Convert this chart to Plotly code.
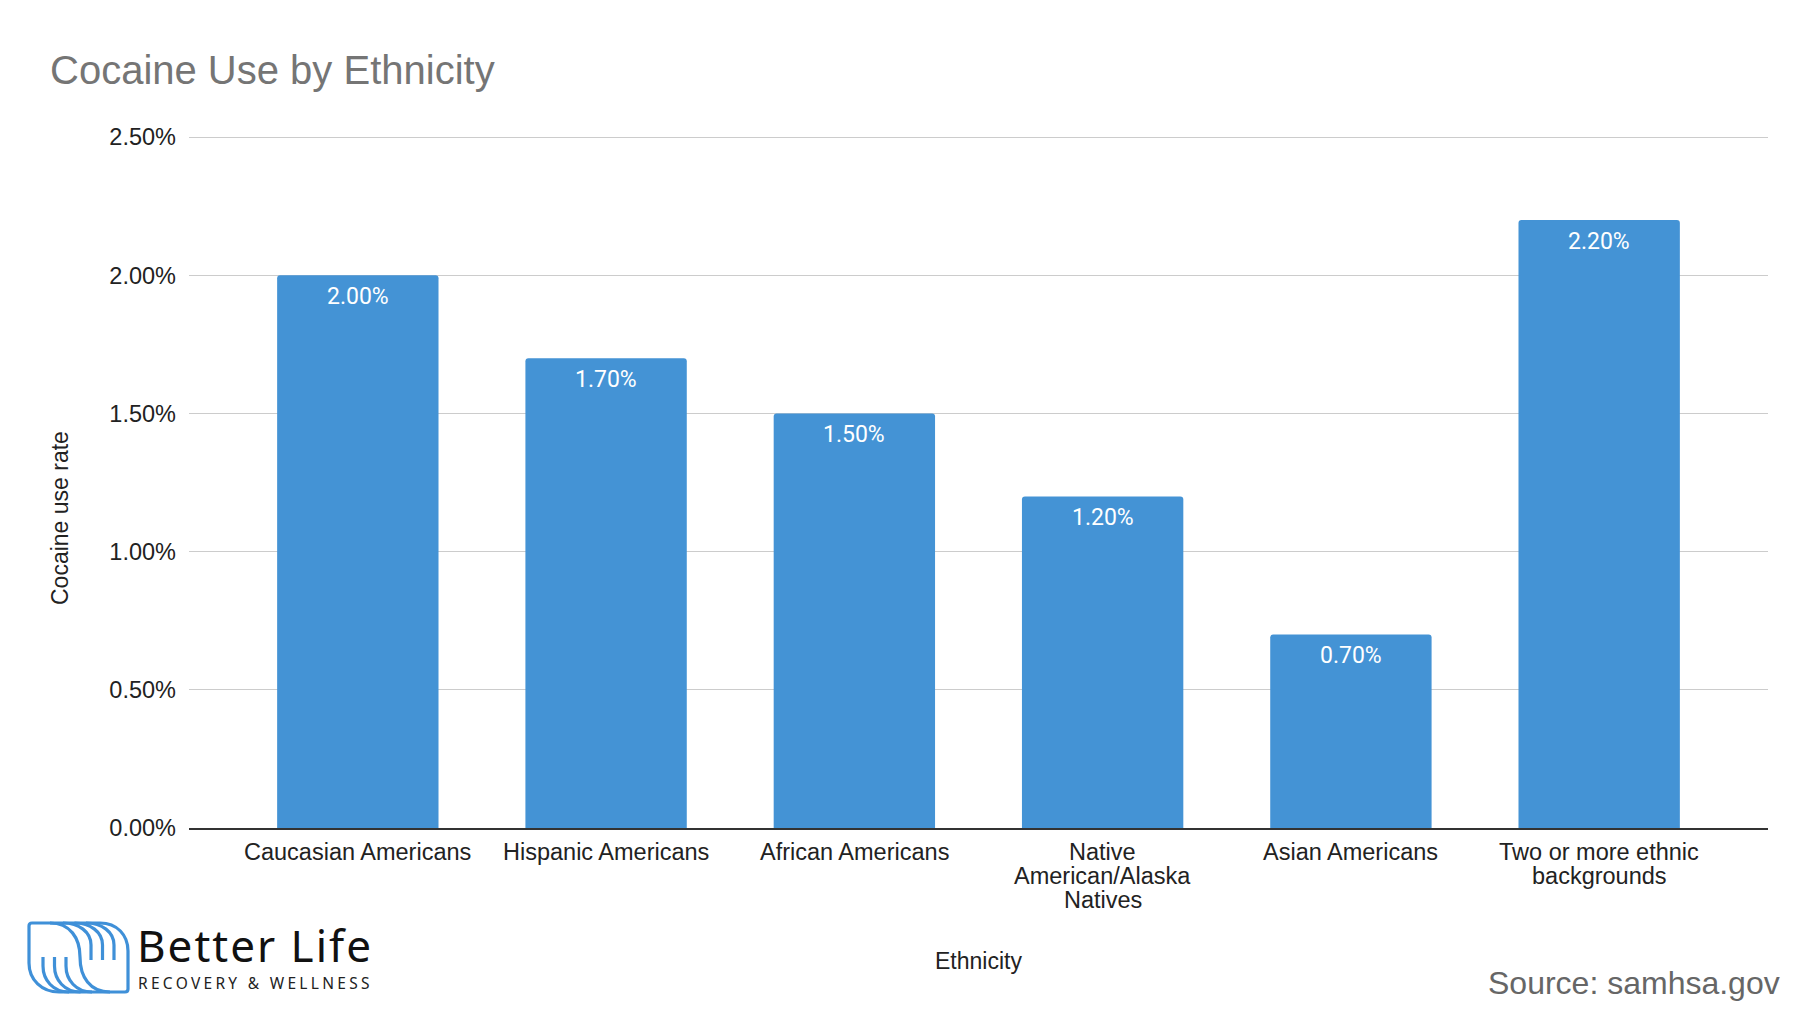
import plotly.graph_objects as go

# ---- data ----
categories = [
    "Caucasian Americans",
    "Hispanic Americans",
    "African Americans",
    "Native<br>American/Alaska<br>Natives",
    "Asian Americans",
    "Two or more ethnic<br>backgrounds",
]
use_rate = [0.020, 0.017, 0.015, 0.012, 0.007, 0.022]
y_ticks = [0.0, 0.005, 0.010, 0.015, 0.020, 0.025]

title_text = "Cocaine Use by Ethnicity"
x_title = "Ethnicity"
y_title = "Cocaine use rate"
source_text = "Source: samhsa.gov"

# ---- layout geometry (reference pixels; page body has an 8px offset) ----
OFF = 8
W, H = 1818 - OFF, 1020 - OFF
YTOP = 0.02508
B_ref = 828
T_ref = round(B_ref - YTOP * (B_ref - 137) / 0.025)
L_ref, R_ref = 189, 1768
L, R, T, B = L_ref - OFF, R_ref - OFF, T_ref - OFF, B_ref - OFF
PW, PH = R - L, B - T


def px(x):
    return (x - OFF - L) / PW


def py(y):
    return (B - (y - OFF)) / PH


BAR = "#4493D5"
FONT = "Liberation Sans, Arial, sans-serif"
TXT = "#222222"

fig = go.Figure()
fig.add_trace(
    go.Bar(
        x=categories,
        y=use_rate,
        width=0.65,
        marker=dict(color=BAR, line=dict(width=0)),
        hoverinfo="skip",
    )
)

# value labels inside bar tops
for c, v in zip(categories, use_rate):
    fig.add_annotation(
        x=c, y=v, xref="x", yref="y",
        text=f"{v * 100:.2f}%",
        showarrow=False,
        yanchor="middle",
        yshift=-21,
        font=dict(family="Roboto, sans-serif", size=23, color="white"),
    )

# category labels (tighter line spacing than tick labels allow)
for c in categories:
    for i, line in enumerate(c.split("<br>")):
        fig.add_annotation(
            x=c, y=0, xref="x", yref="paper",
            text=line,
            showarrow=False,
            yanchor="middle",
            yshift=-(24 + i * 24),
            font=dict(family=FONT, size=23.5, color=TXT),
        )

fig.update_layout(
    width=W,
    height=H,
    margin=dict(l=L, r=W - R, t=T, b=H - B, autoexpand=False),
    paper_bgcolor="white",
    plot_bgcolor="white",
    showlegend=False,
    barcornerradius=3,
    font=dict(family=FONT, size=23, color=TXT),
    title=dict(
        text=title_text,
        x=(50 - OFF) / W,
        xref="container",
        xanchor="left",
        y=1 - (70 - OFF) / H,
        yref="container",
        yanchor="middle",
        font=dict(family=FONT, size=40, color="#757575"),
    ),
    xaxis=dict(
        type="category",
        range=[-0.68, 5.68],
        showgrid=False,
        zeroline=False,
        showline=True,
        linecolor="#333333",
        linewidth=2,
        ticks="",
        showticklabels=False,
        title=dict(text=x_title, font=dict(family=FONT, size=23, color=TXT), standoff=124),
        automargin=False,
    ),
    yaxis=dict(
        range=[0, YTOP],
        tickvals=y_ticks,
        tickformat=".2%",
        showgrid=True,
        gridcolor="#cccccc",
        gridwidth=1,
        zeroline=False,
        showline=False,
        ticks="",
        ticklabelstandoff=12,
        tickfont=dict(family=FONT, size=23.5, color=TXT),
        automargin=False,
    ),
)

# ---- y axis title (sits below the plot centre in the reference) ----
fig.add_annotation(
    text=y_title,
    xref="paper", yref="paper",
    x=px(60), y=py(518),
    xanchor="center", yanchor="middle",
    textangle=-90,
    showarrow=False,
    font=dict(family=FONT, size=23, color=TXT),
)

# ---- source note ----
fig.add_annotation(
    text=source_text,
    xref="paper", yref="paper",
    x=px(1782), y=py(983),
    xanchor="right", yanchor="middle",
    showarrow=False,
    font=dict(family=FONT, size=32, color="#666666"),
)

# ---- logo: text ----
fig.add_annotation(
    text="<span style='letter-spacing:2px'>Better Life</span>",
    xref="paper", yref="paper",
    x=px(135), y=py(945),
    xanchor="left", yanchor="middle",
    showarrow=False,
    font=dict(family="Noto Sans, sans-serif", size=44, color="#111111"),
)
fig.add_annotation(
    text="<span style='letter-spacing:3.3px'>RECOVERY &amp; WELLNESS</span>",
    xref="paper", yref="paper",
    x=px(136), y=py(983),
    xanchor="left", yanchor="middle",
    showarrow=False,
    font=dict(family="Noto Sans, sans-serif", size=15.5, color="#222222"),
)

# ---- logo: icon ----
LOGO = "#3F90D8"


def path(cmds):
    out = []
    for c in cmds:
        s = c[0] + " ".join(f"{px(x):.5f},{py(y):.5f}" for x, y in c[1:])
        out.append(s)
    return " ".join(out)


outline = path([
    ("M", (29, 926)),
    ("Q", (29, 923), (32, 923)),
    ("L", (100, 923)),
    ("C", (117, 923), (128, 935), (128, 951)),
    ("L", (128, 989)),
    ("Q", (128, 992), (125, 992)),
    ("L", (59, 992)),
    ("C", (42, 992), (29, 980), (29, 963)),
]) + " Z"
fig.add_shape(type="path", xref="paper", yref="paper", path=outline,
              line=dict(color=LOGO, width=3.2), fillcolor="rgba(0,0,0,0)", layer="above")

s_curve = path([
    ("M", (50, 923)),
    ("C", (70, 923), (80, 938), (80, 957)),
    ("C", (80, 977), (90, 992), (110, 992)),
])
fig.add_shape(type="path", xref="paper", yref="paper", path=s_curve,
              line=dict(color=LOGO, width=3.2), layer="above")

for ex in [91, 102.5, 114]:
    p = path([
        ("M", (ex - 28, 923)),
        ("C", (ex - 12, 923), (ex, 932), (ex, 945)),
        ("L", (ex, 960)),
    ])
    fig.add_shape(type="path", xref="paper", yref="paper", path=p,
                  line=dict(color=LOGO, width=3.2), layer="above")

for sx in [43, 54.5, 66]:
    p = path([
        ("M", (sx, 957)),
        ("L", (sx, 966)),
        ("C", (sx, 980), (sx + 10, 992), (sx + 26, 992)),
    ])
    fig.add_shape(type="path", xref="paper", yref="paper", path=p,
                  line=dict(color=LOGO, width=3.2), layer="above")

fig.write_html("out.html")
